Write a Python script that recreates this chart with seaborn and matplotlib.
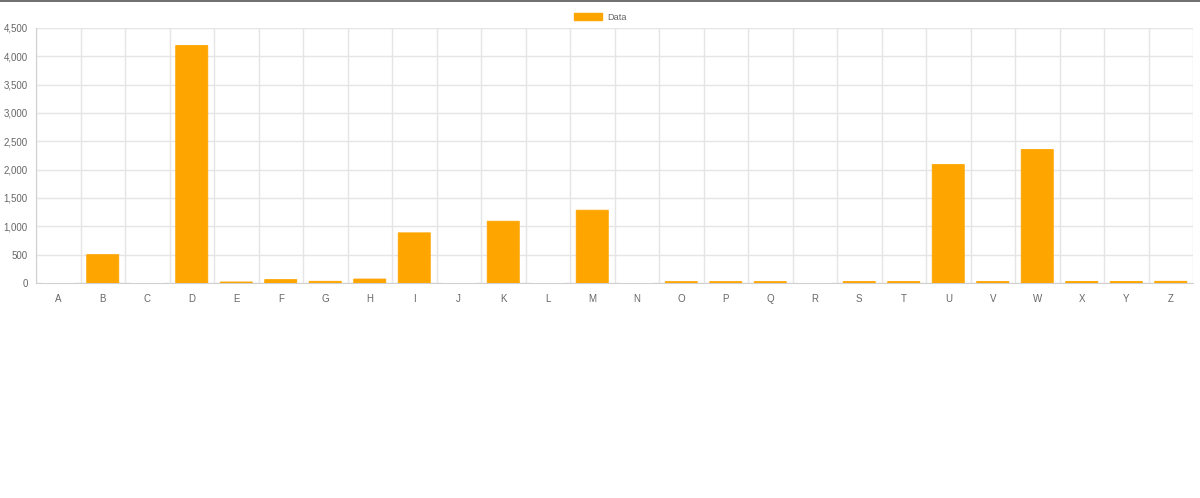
import matplotlib
matplotlib.use("Agg")
import matplotlib.pyplot as plt
import seaborn as sns
import pandas as pd
import numpy as np
from matplotlib.lines import Line2D

# values
letters = list("ABCDEFGHIJKLMNOPQRSTUVWXYZ")
values = [5, 500, 4, 4190, 18, 60, 30, 70, 885, 5,
          1090, 5, 1285, 3, 24, 24, 24, 4, 26, 26,
          2090, 26, 2355, 28, 28, 30]
y_ticks = [0, 500, 1000, 1500, 2000, 2500, 3000, 3500, 4000, 4500]

df = pd.DataFrame({"letter": letters, "value": values})

sns.set_style("white")
plt.rcParams['font.family'] = ['Liberation Sans', 'DejaVu Sans']

grid_col = "#e5e5e5"
text_col = "#666666"
bar_col = "#FFA500"

fig = plt.figure(figsize=(12, 4.98), dpi=100)
ax = fig.add_axes([36 / 1200, 1 - 283 / 498, (1193 - 36) / 1200, (283 - 28) / 498])

sns.barplot(data=df, x="letter", y="value", color=bar_col, width=0.72,
            saturation=1, ax=ax, label="Data", zorder=3)
for bar, v in zip(ax.patches, values):
    bar.set_snap(False)
    if v >= 15:
        # give the thin bars a hairline edge so they stay visible
        bar.set_edgecolor(bar_col)
        bar.set_linewidth(0.6)
    else:
        bar.set_facecolor("#f7dcae")

ax.set_xlim(-0.5, len(letters) - 0.5)
ax.set_ylim(0, 4500)
ax.set_yticks(y_ticks)
ax.set_yticklabels([f"{v:,}" for v in y_ticks])
ax.set_xlabel("")
ax.set_ylabel("")

# gridlines between categories, like the original
ax.set_xticks(np.arange(-0.5, len(letters)), minor=True)
ax.grid(True, which="minor", axis="x", color=grid_col, lw=1)
ax.grid(True, which="major", axis="y", color=grid_col, lw=1)
ax.tick_params(axis="x", which="major", length=0, pad=8, labelsize=7, labelcolor=text_col)
ax.tick_params(axis="x", which="minor", length=6, color=grid_col, width=1)
ax.tick_params(axis="y", length=3, color=grid_col, width=1, pad=3, labelsize=7, labelcolor=text_col)

for side in ["top", "right"]:
    ax.spines[side].set_visible(False)
ax.spines["left"].set_color("#d0d0d0")
ax.spines["bottom"].set_color("#d0d0d0")
ax.spines["bottom"].set_zorder(2)
ax.set_axisbelow(True)

leg = ax.get_legend()
if leg is not None:
    leg.remove()
fig.legend(handles=[plt.Rectangle((0, 0), 1, 1, color=bar_col)], labels=["Data"],
           loc="center", bbox_to_anchor=(0.5, 1 - 17 / 498), frameon=False,
           handlelength=3.1, handleheight=0.9, handletextpad=0.5,
           fontsize=6.6, labelcolor=text_col)

# dark border line along the top of the page
fig.add_artist(Line2D([0, 1], [1 - 0.6 / 498] * 2, color="#555555", lw=1.2,
                      transform=fig.transFigure))

fig.savefig("out.png", dpi=100, facecolor="white")
